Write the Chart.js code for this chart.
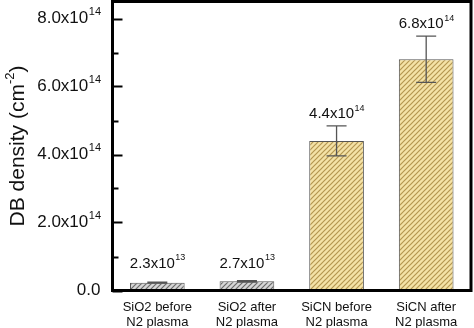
<!DOCTYPE html>
<html>
<head>
<meta charset="utf-8">
<script src="https://cdn.jsdelivr.net/npm/chart.js@4"></script>
<style>
  html, body { margin: 0; padding: 0; background: #fff; }
  #wrap { width: 474px; height: 328px; }
</style>
</head>
<body>
<div id="wrap"><canvas id="dbChart" width="474" height="328"></canvas></div>
<script>
// Data
const categories = [
  ["SiO2 before", "N2 plasma"],
  ["SiO2 after", "N2 plasma"],
  ["SiCN before", "N2 plasma"],
  ["SiCN after", "N2 plasma"],
];
const densities = [2.3e13, 2.7e13, 4.4e14, 6.8e14];
const errors = [0.15e13, 0.2e13, 0.44e14, 0.68e14];
const valueMantissa = ["2.3", "2.7", "4.4", "6.8"];
const valueExponent = ["13", "13", "14", "14"];
const yTickValues = [0, 2e14, 4e14, 6e14, 8e14];
const yTickLabels = ["0.0", "2.0", "4.0", "6.0", "8.0"];

const FONT = "'Liberation Sans', Arial, sans-serif";

// hatched fill used by the bars
function makeHatch(bg, line) {
  const c = document.createElement("canvas");
  c.width = 5;
  c.height = 5;
  const g = c.getContext("2d");
  g.fillStyle = bg;
  g.fillRect(0, 0, 5, 5);
  g.strokeStyle = line;
  g.lineWidth = 1.2;
  g.beginPath();
  g.moveTo(-1, 6); g.lineTo(6, -1);
  g.moveTo(-1, 1); g.lineTo(1, -1);
  g.moveTo(4, 6); g.lineTo(6, 4);
  g.stroke();
  return g.createPattern(c, "repeat");
}

const ctx = document.getElementById("dbChart").getContext("2d");
const grayHatch = makeHatch("#d6d6d6", "#6a6a6a");
const tanHatch = makeHatch("#f4e2a6", "#b49650");

// draws text like "2.3x10" with a raised exponent, centred on x
function drawSci(g, mant, exp, x, y, size, align) {
  g.font = size + "px " + FONT;
  const w1 = g.measureText(mant + "x10").width;
  g.font = Math.round(size * 0.62) + "px " + FONT;
  const w2 = g.measureText(exp).width;
  let start = x - (w1 + w2) / 2;
  if (align === "right") start = x - (w1 + w2);
  g.textBaseline = "middle";
  g.textAlign = "left";
  g.fillStyle = "#111";
  g.font = size + "px " + FONT;
  g.fillText(mant + "x10", start, y);
  g.font = Math.round(size * 0.62) + "px " + FONT;
  g.fillText(exp, start + w1 + 0.5, y - size * 0.38);
}

const decorPlugin = {
  id: "decor",
  afterDatasetsDraw(chart) {
    const g = chart.ctx;
    const y = chart.scales.y;
    const area = chart.chartArea;
    const meta = chart.getDatasetMeta(0);
    g.save();

    // error bars
    g.strokeStyle = "#555";
    g.lineWidth = 1.3;
    meta.data.forEach((bar, i) => {
      const top = y.getPixelForValue(densities[i] + errors[i]);
      const bot = y.getPixelForValue(densities[i] - errors[i]);
      const cx = bar.x;
      g.beginPath();
      g.moveTo(cx, top); g.lineTo(cx, bot);
      g.moveTo(cx - 10, top); g.lineTo(cx + 10, top);
      g.moveTo(cx - 10, bot); g.lineTo(cx + 10, bot);
      g.stroke();
    });

    // value labels
    meta.data.forEach((bar, i) => {
      const top = y.getPixelForValue(densities[i] + errors[i]);
      const ly = Math.min(top - 12, area.bottom - 27);
      drawSci(g, valueMantissa[i], valueExponent[i], bar.x, ly, 15, "center");
    });

    // inward tick marks, major every 2e14, minor every 1e14
    g.strokeStyle = "#000";
    g.lineWidth = 2;
    for (let v = 0; v <= 8e14; v += 1e14) {
      const py = Math.round(y.getPixelForValue(v)) + 0.5;
      const len = (v / 1e14) % 2 === 0 ? 10 : 6;
      g.beginPath();
      g.moveTo(area.left, py);
      g.lineTo(area.left + len, py);
      g.stroke();
    }

    // y tick labels
    yTickValues.forEach((v, i) => {
      const py = y.getPixelForValue(v);
      if (v === 0) {
        g.font = "17px " + FONT;
        g.textAlign = "right";
        g.textBaseline = "middle";
        g.fillStyle = "#111";
        g.fillText(yTickLabels[i], area.left - 12, py);
      } else {
        drawSci(g, yTickLabels[i], "14", area.left - 12, py, 17, "right");
      }
    });

    // y axis title
    g.save();
    g.translate(18, (area.top + area.bottom) / 2);
    g.rotate(-Math.PI / 2);
    g.font = "21px " + FONT;
    g.textAlign = "left";
    g.textBaseline = "middle";
    g.fillStyle = "#111";
    const t1 = "DB density (cm";
    const w1 = g.measureText(t1).width;
    g.font = "13px " + FONT;
    const w2 = g.measureText("-2").width;
    g.font = "21px " + FONT;
    const w3 = g.measureText(")").width;
    const sx = -(w1 + w2 + w3) / 2;
    g.fillText(t1, sx, 0);
    g.font = "13px " + FONT;
    g.fillText("-2", sx + w1, -8);
    g.font = "21px " + FONT;
    g.fillText(")", sx + w1 + w2, 0);
    g.restore();

    // frame
    g.strokeStyle = "#000";
    g.lineWidth = 3;
    g.strokeRect(area.left, area.top, area.right - area.left, area.bottom - area.top);
    g.restore();
  },
};

new Chart(ctx, {
  type: "bar",
  data: {
    labels: categories,
    datasets: [
      {
        data: densities,
        backgroundColor: [grayHatch, grayHatch, tanHatch, tanHatch],
        borderColor: "#555",
        borderWidth: 1,
        borderSkipped: false,
        categoryPercentage: 1,
        barPercentage: 0.61,
      },
    ],
  },
  options: {
    responsive: false,
    animation: false,
    layout: {
      padding: { top: 1.5, right: 3, left: 0, bottom: 0 },
    },
    plugins: {
      legend: { display: false },
      tooltip: { enabled: false },
    },
    scales: {
      x: {
        grid: { display: false, drawTicks: false },
        border: { display: false },
        ticks: {
          color: "#111",
          font: { family: FONT, size: 13 },
          padding: 9,
          maxRotation: 0,
        },
        afterFit(scale) {
          scale.height = 37.5;
        },
      },
      y: {
        min: 0,
        max: 8.5e14,
        grid: { display: false, drawTicks: false },
        border: { display: false },
        ticks: { display: false },
        afterFit(scale) {
          scale.width = 112.5;
        },
      },
    },
  },
  plugins: [decorPlugin],
});
</script>
</body>
</html>
